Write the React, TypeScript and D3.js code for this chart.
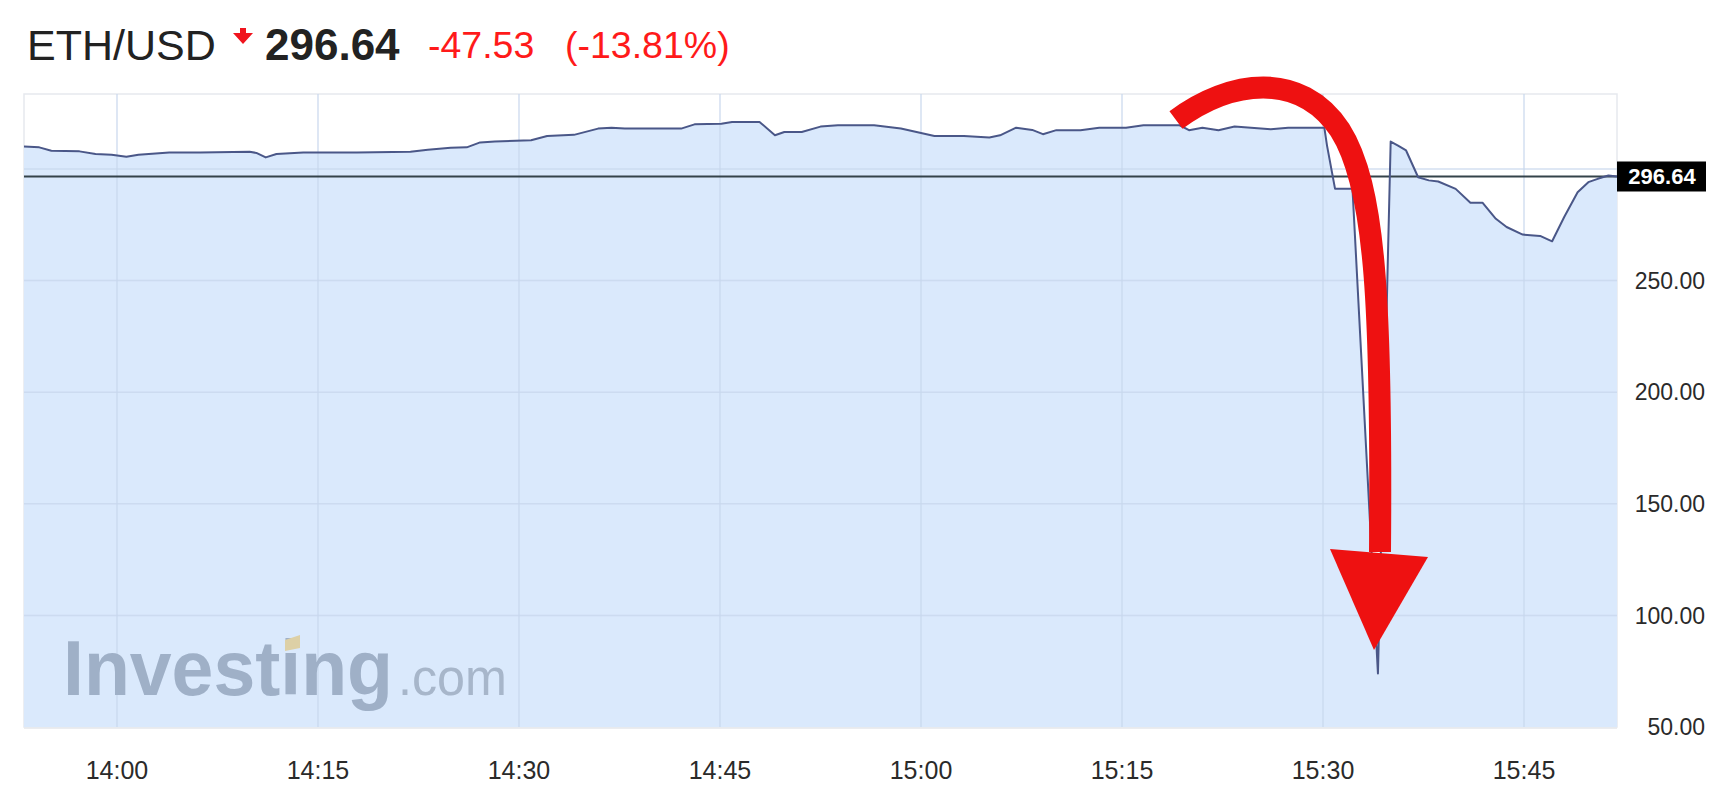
import React from "react";
import * as d3 from "d3";

// minutes relative to 14:00
const minutes = [
  -6.94, -5.8, -4.9, -2.8, -1.6, -0.4, 0.7, 1.6, 3.9, 6.2, 9.9, 10.4, 11.1, 11.9, 13.9, 17.9,
  21.9, 23.2, 24.9, 26.1, 27.1, 28.2, 30.9, 32.1, 34.1, 35.9, 36.9, 37.9, 42.1, 43.1, 45.1,
  45.9, 47.95, 49.1, 49.8, 51.1, 52.5, 53.8, 56.5, 58.5, 61.0, 63.2, 65.1, 65.9, 67.1, 68.3,
  69.1, 70.1, 71.9, 73.3, 75.3, 76.6, 79.3, 80.0, 81.0, 82.2, 83.4, 86.1, 87.4, 90.1, 90.3,
  90.9, 92.2, 94.1, 95.05, 95.6, 96.2, 97.1, 97.9, 98.6, 99.9, 101.0, 101.9, 102.9, 103.7,
  104.9, 106.2, 107.1, 108.0, 109.0, 109.8, 110.5, 111.3, 111.94,
];
const prices = [
  310.1, 309.7, 308.2, 307.9, 306.7, 306.4, 305.5, 306.4, 307.4, 307.4, 307.7, 307.2, 305.2,
  306.7, 307.4, 307.4, 307.7, 308.6, 309.5, 309.7, 311.9, 312.3, 312.9, 314.8, 315.3, 318.1,
  318.5, 318.1, 318.1, 320.0, 320.3, 321.1, 321.1, 315.1, 316.6, 316.6, 319.0, 319.6, 319.6,
  318.1, 314.8, 314.8, 314.1, 315.1, 318.5, 317.5, 315.6, 317.4, 317.4, 318.5, 318.5, 319.6,
  319.6, 317.4, 318.5, 317.4, 319.0, 317.8, 318.5, 318.5, 310.5, 291.1, 291.1, 74.0, 312.3,
  310.5, 308.3, 296.3, 294.9, 294.4, 291.1, 284.9, 284.9, 277.7, 274.0, 270.6, 270.0, 267.6,
  278.5, 289.6, 294.1, 295.6, 297.1, 296.64,
];
const xTickMinutes = [0, 15, 30, 45, 60, 75, 90, 105];
const xTickLabels = ["14:00", "14:15", "14:30", "14:45", "15:00", "15:15", "15:30", "15:45"];
const yTicks = [50, 100, 150, 200, 250, 300];
const lastPrice = 296.64;
const change = "-47.53";
const changePct = "(-13.81%)";
const symbol = "ETH/USD";

const W = 1734;
const H = 800;
const plot = { left: 24, right: 1617, top: 94, bottom: 727 };

export default function App() {
  const x = d3.scaleLinear().domain([-6.94, 111.94]).range([plot.left, plot.right]);
  const y = d3.scaleLinear().domain([50, 333.6]).range([plot.bottom, plot.top]);
  const data = minutes.map((m, i) => ({ m, v: prices[i] }));
  const line = d3.line<any>().x((d) => x(d.m)).y((d) => y(d.v));
  const area = d3.area<any>().x((d) => x(d.m)).y0(plot.bottom).y1((d) => y(d.v));
  const font = "'Liberation Sans', Arial, Helvetica, sans-serif";

  return (
    <svg
      width={W}
      height={H}
      style={{ position: "fixed", left: 0, top: 0, background: "#fff" }}
      fontFamily={font}
    >
      {/* header */}
      <text x={27} y={60} fontSize={43} fill="#222">{symbol}</text>
      <polygon points="240,28 246,28 246,33 253,33 243,44 233,33 240,33" fill="#f0141e" />
      <text x={265} y={60} fontSize={44} fontWeight="bold" fill="#222">{lastPrice.toFixed(2)}</text>
      <text x={428} y={58} fontSize={37.5} fill="#ff1a1a">{change}</text>
      <text x={565} y={58} fontSize={37.5} fill="#ff1a1a">{changePct}</text>

      {/* plot background */}
      <rect x={plot.left} y={plot.top + 2} width={plot.right - plot.left} height={plot.bottom - plot.top} fill="#ebecef" />
      <rect x={plot.left} y={plot.top} width={plot.right - plot.left} height={plot.bottom - plot.top} fill="#fff" stroke="#e6e9ee" strokeWidth={1.5} />
      <path d={area(data) || ""} fill="#dae9fc" />

      {/* grid */}
      {yTicks.filter((t) => t > 50).map((t) => (
        <line key={"gy" + t} x1={plot.left} x2={plot.right} y1={y(t)} y2={y(t)} stroke="#c9d8ee" strokeWidth={1.5} opacity={0.8} />
      ))}
      {xTickMinutes.map((t) => (
        <line key={"gx" + t} x1={x(t)} x2={x(t)} y1={plot.top} y2={plot.bottom} stroke="#c9d8ee" strokeWidth={1.5} opacity={0.8} />
      ))}

      {/* watermark */}
      <text x={63} y={695} fontSize={77} fontWeight="bold" fill="#9fb0c7" textLength={330} lengthAdjust="spacingAndGlyphs">Investing</text>
      <polygon points="285,640 300,635 300,648 285,651" fill="#ddd0a6" />
      <text x={398} y={695} fontSize={52} fill="#a7b6ca" textLength={109} lengthAdjust="spacingAndGlyphs">.com</text>

      {/* last price line */}
      <line x1={plot.left} x2={plot.right} y1={y(lastPrice)} y2={y(lastPrice)} stroke="#34434a" strokeWidth={2} />

      {/* price line */}
      <path d={line(data) || ""} fill="none" stroke="#4a5788" strokeWidth={2} strokeLinejoin="round" />

      {/* y axis labels */}
      {yTicks.filter((t) => t < 300).map((t) => (
        <text key={"ly" + t} x={1705} y={y(t)} dy="0.36em" fontSize={23} textAnchor="end" fill="#2a2a2a">{t.toFixed(2)}</text>
      ))}
      <rect x={plot.right} y={y(lastPrice) - 15} width={89} height={30} fill="#000" />
      <text x={plot.right + 45} y={y(lastPrice)} dy="0.36em" fontSize={22} fontWeight="bold" textAnchor="middle" fill="#fff">{lastPrice.toFixed(2)}</text>

      {/* x axis labels */}
      {xTickMinutes.map((t, i) => (
        <text key={"lx" + t} x={x(t)} y={779} fontSize={25} textAnchor="middle" fill="#2a2a2a">{xTickLabels[i]}</text>
      ))}

      {/* red annotation arrow */}
      <path
        d="M1176,120 C1230,80 1300,70 1340,130 C1375,185 1382,300 1380,552"
        fill="none"
        stroke="#ee1111"
        strokeWidth={22}
      />
      <polygon points="1330,549 1428,557 1374,650" fill="#ee1111" />
    </svg>
  );
}
